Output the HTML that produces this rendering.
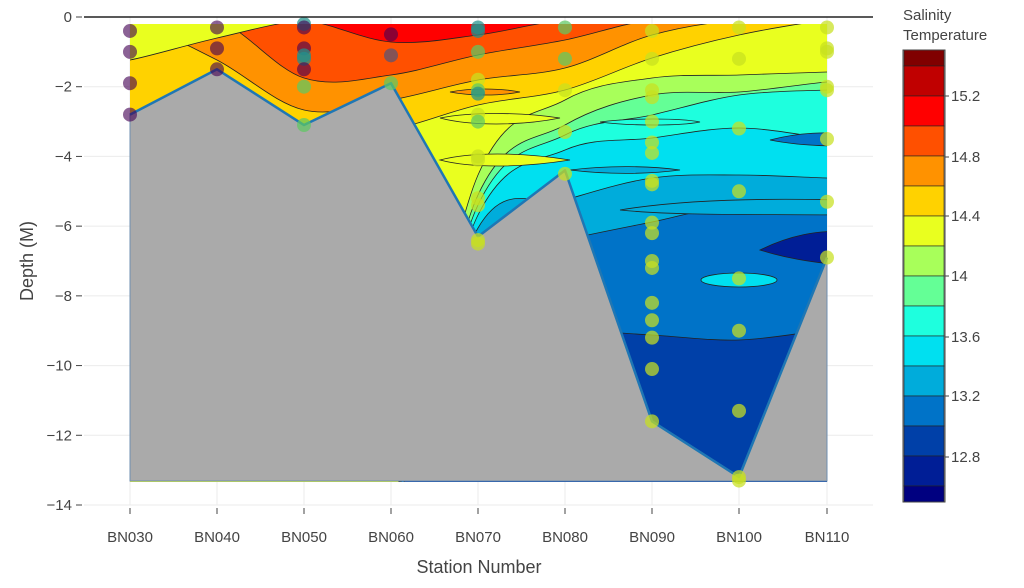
<!DOCTYPE html>
<html><head><meta charset="utf-8"><style>
body{margin:0;background:#fff;}
svg text{font-family:"Liberation Sans",sans-serif;fill:#444;}
</style></head><body>
<svg id="s" width="1024" height="583" xmlns="http://www.w3.org/2000/svg">
<rect width="1024" height="583" fill="#fff"/>
<g id="grid" stroke="#ebebeb" stroke-width="1"></g>
<defs><clipPath id="cp"><rect x="130" y="24" width="697" height="458"/></clipPath></defs>
<g id="cont" clip-path="url(#cp)"></g>
<g id="bathy"></g>
<g id="dots"></g>
<line x1="84" y1="17" x2="873" y2="17" stroke="#222" stroke-width="1.5"/>
<g id="axes" font-size="15"></g>
<text x="479" y="573" font-size="18" text-anchor="middle">Station Number</text>
<text transform="translate(33,261) rotate(-90)" font-size="18" text-anchor="middle">Depth (M)</text>
<text x="903" y="20" font-size="15">Salinity</text>
<text x="903" y="40" font-size="15">Temperature</text>
<g id="cbar"></g>
</svg>
<script>
const NS="http://www.w3.org/2000/svg";
function el(t,a,p){const e=document.createElementNS(NS,t);for(const k in a)e.setAttribute(k,a[k]);document.getElementById(p).appendChild(e);return e;}
const X=[130,217,304,391,478,565,652,739,827];
const yv=d=>17-d*34.857;
X.forEach(x=>el('line',{x1:x,y1:17,x2:x,y2:505},'grid'));
for(let d=-2;d>=-14;d-=2)el('line',{x1:84,y1:yv(d),x2:873,y2:yv(d)},'grid');
for(let d=0;d>=-14;d-=2){const t=el('text',{x:72,y:yv(d)+5,'text-anchor':'end'},'axes');t.textContent=d==0?'0':'\u2212'+(-d);
el('line',{x1:76,y1:yv(d),x2:82,y2:yv(d),stroke:'#444'},'axes');}
X.forEach((x,i)=>{const t=el('text',{x:x,y:542,'text-anchor':'middle'},'axes');t.textContent='BN'+String(30+i*10).padStart(3,'0');
el('line',{x1:x,y1:508,x2:x,y2:514,stroke:'#444'},'axes');});
function smooth(ys){const pts=[[100,ys[0]]].concat(X.map((x,i)=>[x,ys[i]])).concat([[860,ys[8]]]);
let d='M'+pts[0][0]+','+pts[0][1];
for(let i=0;i<pts.length-1;i++){const p0=pts[Math.max(0,i-1)],p1=pts[i],p2=pts[i+1],p3=pts[Math.min(pts.length-1,i+2)];
d+=` C${p1[0]+(p2[0]-p0[0])/6},${p1[1]+(p2[1]-p0[1])/6} ${p2[0]-(p3[0]-p1[0])/6},${p2[1]-(p3[1]-p1[1])/6} ${p2[0]},${p2[1]}`;}
return d;}
el('rect',{x:100,y:0,width:800,height:520,fill:'#0040a8'},'cont');
const L=[
['#0073c8',[500,500,500,500,330,330,335,340,330]],
['#00acdb',[500,500,500,500,262,240,222,205,212]],
['#00e0f0',[500,500,500,500,228,200,178,175,178]],
['#1effde',[500,500,500,500,215,150,138,128,138]],
['#64ff96',[500,500,500,500,205,135,115,95,90]],
['#a8ff5a',[500,500,500,500,195,125,95,92,82]],
['#e9ff1f',[500,500,500,500,175,100,78,75,72]],
['#ffd200',[115,95,140,130,105,90,58,35,20]],
['#ff9200',[20,60,110,100,80,68,35,20,20]],
['#ff5000',[20,20,78,75,55,40,20,20,20]],
['#ff0000',[20,20,20,42,35,20,20,20,20]],
['#e9ff1f',[60,38,20,20,20,20,20,20,20]]];
L.forEach(([c,ys])=>{const p=smooth(ys);
el('path',{d:p+' L860,0 L100,0 Z',fill:c},'cont');
el('path',{d:p,fill:'none',stroke:'#222','stroke-width':0.8},'cont');});
// extra wiggly patches
const patch=(d,c)=>el('path',{d:d,fill:c,stroke:'#222','stroke-width':0.8},'cont');
patch('M440,118 C470,112 520,112 560,118 C520,126 470,126 440,118 Z','#e9ff1f');
patch('M440,160 C470,152 520,152 570,160 C520,168 470,168 440,160 Z','#e9ff1f');
patch('M450,92 C470,88 500,88 520,92 C500,96 470,96 450,92 Z','#ff9200');
patch('M600,122 C630,118 680,118 700,122 C680,126 630,126 600,122 Z','#1effde');
patch('M570,170 C610,165 650,166 680,170 C650,174 610,175 570,170 Z','#00acdb');
patch('M620,210 C680,200 760,198 840,200 L840,215 C760,214 680,216 620,210 Z','#00acdb');
el('ellipse',{cx:739,cy:280,rx:38,ry:7,fill:'#00e0f0',stroke:'#222','stroke-width':0.8},'cont');
patch('M760,250 C790,235 820,230 840,232 L840,265 C810,262 785,258 760,250 Z','#001e96');
patch('M770,140 C800,132 830,132 840,134 L840,146 C810,146 790,144 770,140 Z','#0073c8');
const B=[-2.8,-1.5,-3.1,-1.9,-6.3,-4.4,-11.6,-13.2,-6.9];
let pl=X.map((x,i)=>x+','+yv(B[i])).join(' ');
el('polygon',{points:'130,481 '+pl+' 827,481',fill:'#aaaaaa',stroke:'#6f8fb0','stroke-width':1},'bathy');
el('polyline',{points:pl,fill:'none',stroke:'#1f77b4','stroke-width':2.5,'stroke-linejoin':'round'},'bathy');
const P='#440154',T='#21918c',G='#5ec962',Y='#c8e020';
const D=[
[0,[[-0.4,P],[-1.0,P],[-1.9,P],[-2.8,P]]],
[1,[[-0.3,P],[-0.9,P],[-1.5,P]]],
[2,[[-0.2,T],[-0.3,P],[-0.9,P],[-1.1,T],[-1.2,T],[-1.5,P],[-2.0,G],[-3.1,G]]],
[3,[[-0.5,P],[-1.1,'#555577'],[-1.9,G]]],
[4,[[-0.3,T],[-0.4,T],[-1.0,G],[-1.8,Y],[-2.1,G],[-2.2,T],[-2.8,Y],[-3.0,G],[-4.0,Y],[-4.1,Y],[-5.2,Y],[-5.4,Y],[-6.4,Y],[-6.5,Y]]],
[5,[[-0.3,G],[-1.2,G],[-2.1,Y],[-3.3,Y],[-4.5,Y]]],
[6,[[-0.4,Y],[-1.2,Y],[-2.1,Y],[-2.3,Y],[-3.0,Y],[-3.6,Y],[-3.9,Y],[-4.7,Y],[-4.8,Y],[-5.9,Y],[-6.2,Y],[-7.0,Y],[-7.2,Y],[-8.2,Y],[-8.7,Y],[-9.2,Y],[-10.1,Y],[-11.6,Y]]],
[7,[[-0.3,Y],[-1.2,Y],[-3.2,Y],[-5.0,Y],[-7.5,Y],[-9.0,Y],[-11.3,Y],[-13.2,Y],[-13.3,Y]]],
[8,[[-0.3,Y],[-0.9,Y],[-1.0,Y],[-2.0,Y],[-2.1,Y],[-3.5,Y],[-5.3,Y],[-6.9,Y]]]];
D.forEach(([i,a])=>a.forEach(([d,c])=>el('circle',{cx:X[i],cy:yv(d),r:7,fill:c,'fill-opacity':c==P?0.62:0.72},'dots')));
const CB=['#800000','#c00000','#ff0000','#ff5000','#ff9200','#ffd200','#e9ff1f','#a8ff5a','#64ff96','#1effde','#00e0f0','#00acdb','#0073c8','#0040a8','#001e96','#000080'];
let y=50;CB.forEach((c,i)=>{const h=(i==0||i==15)?16:30;el('rect',{x:904,y:y,width:40,height:h,fill:c,stroke:'#222','stroke-width':0.6},'cbar');y+=h;});
el('rect',{x:903,y:50,width:42,height:452,fill:'none',stroke:'#444','stroke-width':1},'cbar');
[['15.2',96],['14.8',157],['14.4',216],['14',276],['13.6',337],['13.2',396],['12.8',457]].forEach(([t,yy])=>{
el('line',{x1:945,y1:yy,x2:949,y2:yy,stroke:'#444'},'cbar');const e=el('text',{x:951,y:yy+5,'font-size':15},'cbar');e.textContent=t;});
</script>
</body></html>
